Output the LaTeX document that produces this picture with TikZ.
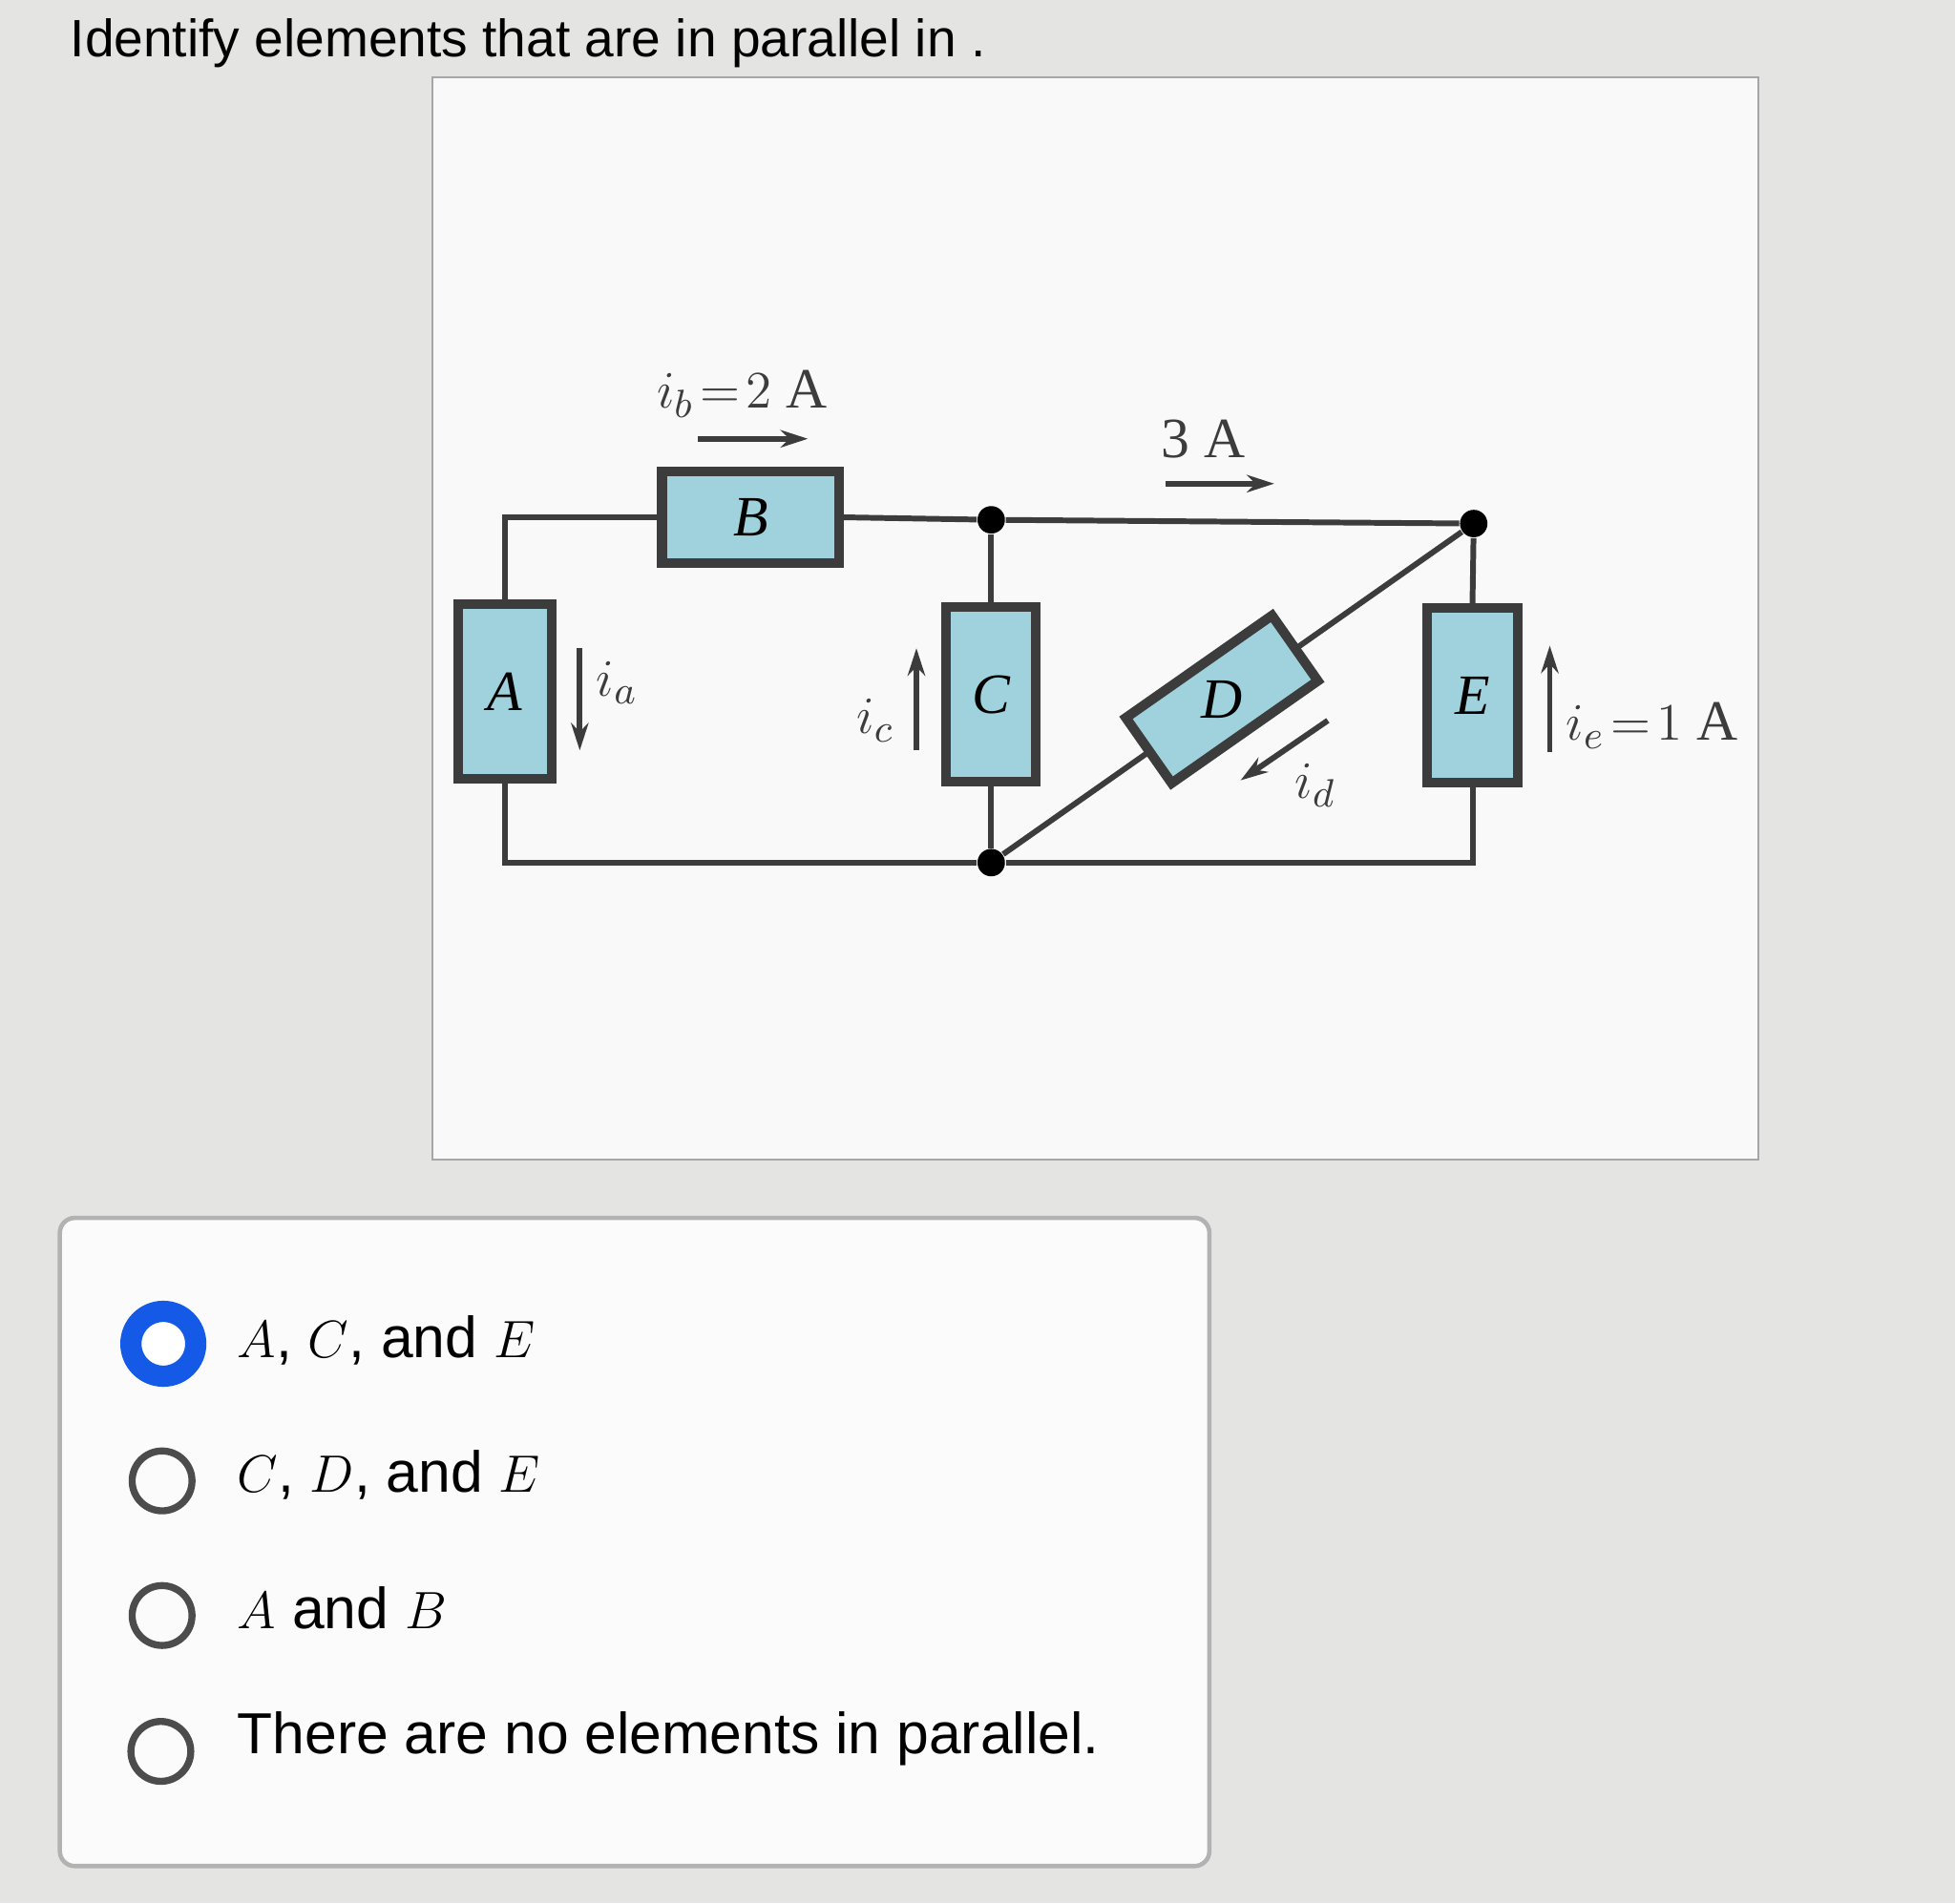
\documentclass[tikz,border=0pt]{standalone}
\usepackage{fontspec}
\setmainfont{Liberation Sans}
\newfontfamily\cserif{Liberation Serif}
\usetikzlibrary{arrows.meta}
\definecolor{bg}{RGB}{228,228,226}
\definecolor{boxfill}{RGB}{160,210,222}
\definecolor{wire}{RGB}{60,60,60}
\definecolor{radioblue}{RGB}{20,90,230}
\tikzset{
 elem/.style={draw=wire,line width=2.2pt,fill=boxfill,inner sep=0pt,font=\cserif\itshape\fontsize{13}{15}\selectfont},
 wireline/.style={draw=wire,line width=1.3pt},
 dot/.style={circle,fill=black,inner sep=0pt,minimum size=0.22cm},
 cur/.style={wireline,-{Stealth[length=0.22cm,width=0.14cm]}},
 lbl/.style={font=\cserif\fontsize{13}{15}\selectfont,text=wire},
 radio/.style={circle,draw=gray!60!black,line width=1.6pt,minimum size=0.48cm,inner sep=0pt},
 opt/.style={anchor=west,font=\fontsize{13.2}{16}\selectfont}
}
\begin{document}
\begin{tikzpicture}[x=0.01cm,y=-0.01cm]
\useasboundingbox (0,0) rectangle (1568,1527);
\fill[bg] (0,0) rectangle (1568,1527);
\node[anchor=west,font=\fontsize{12}{15}\selectfont] (title) at (44,35) {Identify elements that are in parallel in .};
\draw[gray!70,fill=gray!5] (347,62) rectangle (1410,930);
% circuit
\node[elem,minimum width=0.75cm,minimum height=1.4cm] (A) at (405,555) {A};
\node[elem,minimum width=1.42cm,minimum height=0.74cm] (B) at (602,415) {B};
\node[elem,minimum width=0.72cm,minimum height=1.4cm] (C) at (795,557) {C};
\node[elem,minimum width=0.73cm,minimum height=1.4cm] (E) at (1181,558) {E};
\coordinate (tl) at (405,415);
\coordinate (bl) at (405,692);
\node[dot] (n1) at (795,417) {};
\node[dot] (n2) at (1182,420) {};
\node[dot] (n3) at (795,692) {};
\coordinate (br) at (1181,692);
\draw[wireline] (A.north) -- (tl) -- (B.west);
\draw[wireline] (B.east) -- (n1) -- (n2) -- (E.north);
\draw[wireline] (A.south) -- (bl) -- (n3) -- (br) -- (E.south);
\draw[wireline] (n1) -- (C.north);
\draw[wireline] (C.south) -- (n3);
\draw[wireline] (n3) -- (n2);
\node[elem,minimum width=1.43cm,minimum height=0.64cm,rotate=35] (D) at (980,561) {\rotatebox{-35}{D}};
% labels
\node[lbl] (lb) at (595,316) {$i_b\!=\!2$ A};
\coordinate (b1) at (560,352); \coordinate (b2) at (648,352);
\draw[cur] (b1) -- (b2);
\node[lbl] (l3) at (965,352) {3 A};
\coordinate (t1) at (935,388); \coordinate (t2) at (1022,388);
\draw[cur] (t1) -- (t2);
\coordinate (a1) at (465,520); \coordinate (a2) at (465,602);
\draw[cur] (a1) -- (a2);
\node[lbl] (la) at (495,548) {$i_a$};
\coordinate (c1) at (735,602); \coordinate (c2) at (735,520);
\draw[cur] (c1) -- (c2);
\node[lbl] (lc) at (702,578) {$i_c$};
\coordinate (d1) at (1065,578); \coordinate (d2) at (995,626);
\draw[cur] (d1) -- (d2);
\node[lbl] (ld) at (1055,630) {$i_d$};
\coordinate (e1) at (1243,603); \coordinate (e2) at (1243,518);
\draw[cur] (e1) -- (e2);
\node[lbl] (le) at (1325,582) {$i_e\!=\!1$ A};
% answers
\draw[gray!60,line width=1pt,fill=gray!3,rounded corners=0.12cm] (48,977) rectangle (970,1497);
\node[circle,draw=radioblue,line width=0.17cm,fill=white,minimum size=0.52cm,inner sep=0pt] (r1) at (131,1078) {};
\node[radio] (r2) at (130,1188) {};
\node[radio] (r3) at (130,1296) {};
\node[radio] (r4) at (129,1405) {};
\node[opt] (o1) at (178,1075) {$A$, $C$, and $E$};
\node[opt] (o2) at (178,1183) {$C$, $D$, and $E$};
\node[opt] (o3) at (178,1290) {$A$ and $B$};
\node[opt] (o4) at (178,1395) {There are no elements in parallel.};
\end{tikzpicture}
\end{document}
